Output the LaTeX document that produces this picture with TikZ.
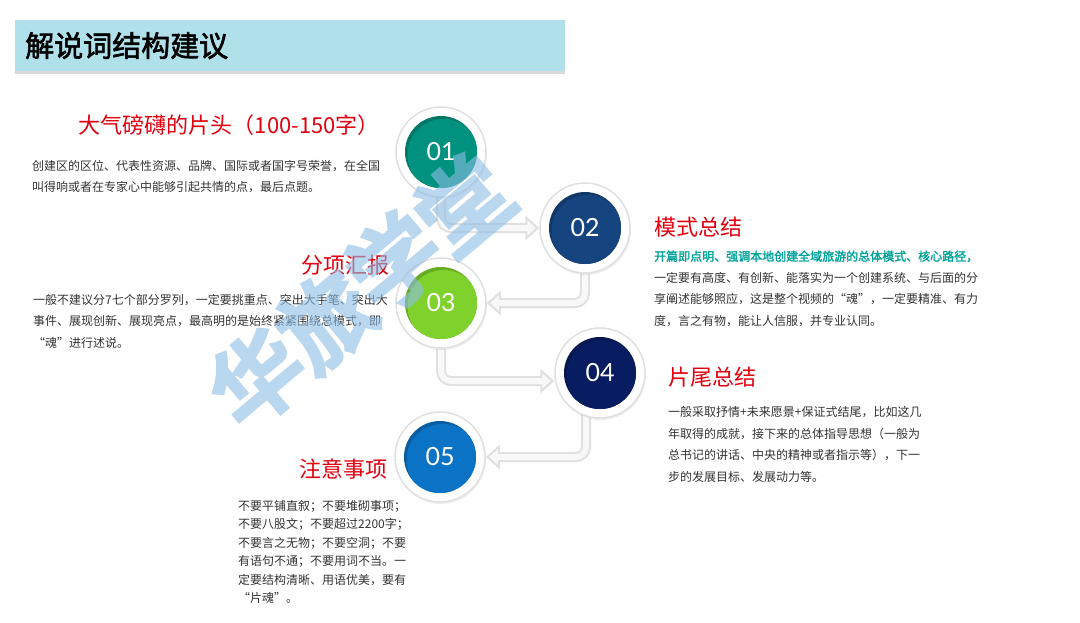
\documentclass[tikz,border=0pt]{standalone}
\usepackage{fontspec}
\setmainfont{Noto Sans CJK SC}[AutoFakeBold=2]
\newfontfamily\numfont{Lato}
\newfontfamily\markfont{Noto Sans CJK SC}[FakeBold=6]
\usetikzlibrary{arrows.meta, positioning, shadows, backgrounds}
\definecolor{hlTitle}{HTML}{B0E0EA}
\definecolor{hlRed}{HTML}{E2000F}
\definecolor{hlTeal}{HTML}{00A39A}
\definecolor{hlText}{HTML}{333333}
\definecolor{hlOne}{HTML}{00927F}
\definecolor{hlTwo}{HTML}{16447F}
\definecolor{hlThree}{HTML}{7FD12C}
\definecolor{hlFour}{HTML}{081C62}
\definecolor{hlFive}{HTML}{0B73C6}
\definecolor{hlMark}{HTML}{8DBDE6}
\definecolor{hlRim}{HTML}{E0E0E0}
\definecolor{hlPipe}{HTML}{F8F8F8}
\tikzset{
  titlebar/.style={
    fill=hlTitle, minimum height=51pt, text width=530pt, inner xsep=10pt,
    align=left, font=\fontsize{29}{29}\selectfont\bfseries,
    drop shadow={shadow xshift=0pt, shadow yshift=-3pt, opacity=0.3}
  },
  ring/.style={
    circle, fill=white, draw=hlRim, line width=1.5pt, minimum size=90pt, inner sep=0pt,
    drop shadow={shadow xshift=1pt, shadow yshift=-2pt, opacity=0.12}
  },
  disc/.style={
    circle, minimum size=72pt, inner sep=0pt, fill=#1!82!black, text=white,
    font=\numfont\fontsize{25}{25}\selectfont,
    path picture={\fill[#1] ([xshift=2.5pt, yshift=-3pt]path picture bounding box.center) circle (36pt);}
  },
  headtext/.style={text=hlRed, font=\fontsize{22}{22}\selectfont, inner sep=0pt},
  bodytext/.style={text=hlText, font=\fontsize{12}{21.5}\selectfont, align=left, inner sep=0pt},
  notetext/.style={bodytext, font=\fontsize{12}{18.5}\selectfont},
  pipe/.style={
    line width=10pt, draw=hlRim, rounded corners=10pt, -{Triangle[length=14pt, width=24pt]},
    postaction={draw=hlPipe, line width=6pt, shorten >=3.5pt, -{Triangle[length=8.5pt, width=15pt]}}
  },
  watermark/.style={text=hlMark, font=\markfont\fontsize{90}{90}\selectfont, inner sep=0pt}
}
\begin{document}
\begin{tikzpicture}[x=1pt, y=-1pt]
  \node[titlebar, anchor=north west] (title) at (15,20) {解说词结构建议};

  \node[ring] (c1) at (441,152) {};
  \node[disc=hlOne] (d1) at (c1) {01};
  \node[ring] (c2) at (585,228) {};
  \node[disc=hlTwo] (d2) at (c2) {02};
  \node[ring] (c3) at (441,303) {};
  \node[disc=hlThree] (d3) at (c3) {03};
  \node[ring] (c4) at (600,373) {};
  \node[disc=hlFour] (d4) at (c4) {04};
  \node[ring] (c5) at (440,457) {};
  \node[disc=hlFive] (d5) at (c5) {05};

  \node[headtext, anchor=east] (h1) at (380,125) {大气磅礴的片头（100-150字）};
  \node[bodytext, anchor=north west] (b1) at (32,160)
    {创建区的区位、代表性资源、品牌、国际或者国字号荣誉，在全国\\叫得响或者在专家心中能够引起共情的点，最后点题。};

  \node[headtext, anchor=west] (h2) at (654,227) {模式总结};
  \node[bodytext, below=13pt of h2.south west, anchor=north west] (b2)
    {{\color{hlTeal}\bfseries 开篇即点明、强调本地创建全域旅游的总体模式、核心路径，}\\
     一定要有高度、有创新、能落实为一个创建系统、与后面的分\\
     享阐述能够照应，这是整个视频的“魂”，一定要精准、有力\\
     度，言之有物，能让人信服，并专业认同。};

  \node[headtext, anchor=east] (h3) at (390,265) {分项汇报};
  \node[bodytext, anchor=north west] (b3) at (33,294)
    {一般不建议分7七个部分罗列，一定要挑重点、突出大手笔、突出大\\
     事件、展现创新、展现亮点，最高明的是始终紧紧围绕总模式，即\\
     “魂”进行述说。};

  \node[headtext, anchor=west] (h4) at (668,377) {片尾总结};
  \node[bodytext, below=19pt of h4.south west, anchor=north west] (b4)
    {一般采取抒情+未来愿景+保证式结尾，比如这几\\
     年取得的成就，接下来的总体指导思想（一般为\\
     总书记的讲话、中央的精神或者指示等），下一\\
     步的发展目标、发展动力等。};

  \node[headtext, anchor=east] (h5) at (388,469) {注意事项};
  \node[notetext, anchor=north west] (b5) at (238,500)
    {不要平铺直叙；不要堆砌事项；\\
     不要八股文；不要超过2200字；\\
     不要言之无物；不要空洞；不要\\
     有语句不通；不要用词不当。一\\
     定要结构清晰、用语优美，要有\\
     “片魂”。};

  \begin{scope}[on background layer]
    \fill[white] (0,0) rectangle (1080,622);
    \draw[pipe] (c1) |- (c2.west);
    \draw[pipe] (c2) |- (c3.east);
    \draw[pipe] (c3) |- ([yshift=-8pt]c4.west);
    \draw[pipe] ([xshift=-14pt]c4.center) |- (c5.east);
  \end{scope}

  \begin{scope}[transparency group, opacity=0.6]
    \node[watermark, rotate=40] (mark) at (360,291) {华旅学堂};
  \end{scope}
\end{tikzpicture}
\end{document}
